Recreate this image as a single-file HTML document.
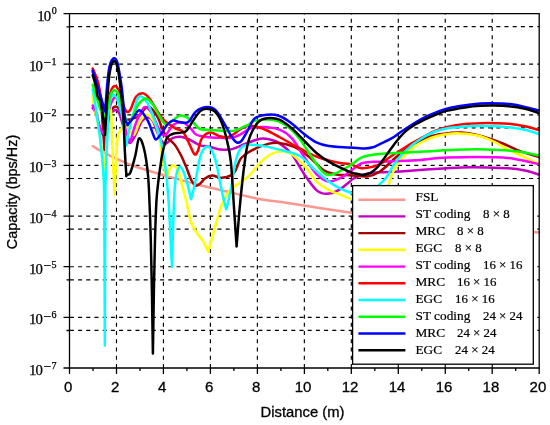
<!DOCTYPE html>
<html><head><meta charset="utf-8"><style>html,body{margin:0;padding:0;background:#fff;}svg{display:block;}</style></head><body>
<svg width="550" height="425" viewBox="0 0 550 425">
<defs><clipPath id="clp"><rect x="69.5" y="13.6" width="469.7" height="354.4"/></clipPath></defs><rect width="550" height="425" fill="#fff"/>
<path d="M116.47,367.96V13.55 M163.44,367.96V13.55 M210.41,367.96V13.55 M257.38,367.96V13.55 M304.35,367.96V13.55 M351.32,367.96V13.55 M398.29,367.96V13.55 M445.26,367.96V13.55 M492.23,367.96V13.55" stroke="#000" stroke-width="1.15" stroke-dasharray="4,4.22" fill="none"/>
<path d="M69.9,26.65H539.20 M69.9,64.18H539.20 M69.9,77.28H539.20 M69.9,114.81H539.20 M69.9,127.91H539.20 M69.9,165.44H539.20 M69.9,178.54H539.20 M69.9,216.07H539.20 M69.9,229.17H539.20 M69.9,266.70H539.20 M69.9,279.80H539.20 M69.9,317.33H539.20 M69.9,330.43H539.20" stroke="#000" stroke-width="1.15" stroke-dasharray="4,4.2" fill="none"/>
<g clip-path="url(#clp)"><path d="M92.7,146.0 C93.8,146.7 96.4,148.5 99.0,150.0 C101.6,151.5 105.0,153.2 108.5,154.9 C112.0,156.6 116.1,158.6 120.0,160.3 C123.9,162.0 128.1,163.8 132.1,165.3 C136.1,166.8 140.1,168.1 144.0,169.3 C147.9,170.6 151.8,171.7 155.6,172.8 C159.4,174.0 163.1,175.1 167.0,176.2 C170.9,177.3 173.6,178.1 179.1,179.6 C184.6,181.1 192.6,183.3 200.0,185.2 C207.4,187.0 214.2,188.5 223.6,190.7 C233.0,192.9 245.8,196.3 256.4,198.4 C267.0,200.5 277.3,201.5 287.3,203.0 C297.3,204.5 305.7,205.9 316.4,207.5 C327.1,209.1 337.4,210.8 351.3,212.8 C365.2,214.8 383.6,217.5 400.0,219.5 C416.4,221.5 433.3,223.4 450.0,225.0 C466.7,226.6 485.2,228.1 500.0,229.3 C514.8,230.6 532.5,232.0 539.0,232.5" stroke="#fa9890" stroke-width="2.5" fill="none" stroke-linejoin="round" stroke-linecap="round"/>
<path d="M92.7,108.0 C93.2,108.8 95.0,111.0 95.8,113.0 C96.6,115.0 97.0,117.7 97.6,120.0 C98.2,122.3 98.8,124.8 99.5,127.0 C100.2,129.2 101.2,131.3 102.0,133.0 C102.8,134.7 104.1,136.3 104.5,137.0 C105.0,134.5 106.5,125.8 107.5,122.0 C108.5,118.2 109.5,115.8 110.5,114.0 C111.5,112.2 112.5,111.7 113.5,111.0 C114.5,110.3 115.5,109.5 116.5,110.0 C117.5,110.5 118.6,112.0 119.5,114.0 C120.4,116.0 120.9,118.5 122.0,122.0 C123.1,125.5 124.7,131.5 126.0,135.0 C127.3,138.5 128.3,143.2 130.0,143.0 C131.7,142.8 134.0,137.7 136.0,134.0 C138.0,130.3 139.9,123.7 142.0,121.0 C144.1,118.3 146.9,117.6 148.7,117.6 C150.5,117.6 151.6,118.7 153.0,121.0 C154.4,123.3 155.6,128.0 156.9,131.2 C158.2,134.4 159.6,137.9 161.0,140.0 C162.4,142.1 163.5,144.2 165.4,143.9 C167.3,143.6 169.9,139.4 172.5,138.2 C175.1,137.0 178.1,136.6 180.9,136.8 C183.7,137.0 186.2,138.2 189.4,139.6 C192.6,141.0 196.8,144.2 200.0,145.3 C203.2,146.5 205.4,145.8 208.8,146.5 C212.2,147.2 216.4,149.0 220.3,149.4 C224.2,149.8 227.7,150.1 232.0,149.1 C236.3,148.1 241.4,145.2 246.1,143.5 C250.8,141.8 256.2,139.5 260.2,138.8 C264.2,138.1 266.8,138.8 270.0,139.5 C273.2,140.2 275.8,140.6 279.4,143.1 C283.0,145.6 287.6,149.2 291.7,154.3 C295.8,159.5 300.0,168.0 304.1,174.0 C308.2,180.0 312.7,186.8 316.4,190.1 C320.1,193.4 322.6,193.8 326.3,193.8 C330.0,193.8 334.7,192.2 338.6,190.1 C342.6,188.0 347.6,183.3 350.0,181.4 C352.4,179.5 350.4,180.0 352.9,178.8 C355.3,177.6 360.2,175.2 364.7,174.1 C369.2,173.0 374.0,172.8 380.0,172.3 C386.0,171.9 392.2,171.9 400.5,171.4 C408.8,170.9 419.8,170.0 430.0,169.3 C440.2,168.6 452.4,167.7 461.6,167.4 C470.8,167.1 477.1,167.2 485.0,167.4 C492.9,167.6 502.0,167.8 508.7,168.3 C515.4,168.8 520.0,169.6 525.0,170.6 C530.0,171.6 536.7,173.9 539.0,174.6" stroke="#c400c4" stroke-width="2.5" fill="none" stroke-linejoin="round" stroke-linecap="round"/>
<path d="M92.7,72.0 C93.3,73.2 95.4,76.2 96.5,79.5 C97.6,82.8 98.6,86.1 99.5,92.0 C100.4,97.9 101.2,105.3 102.0,115.0 C102.8,124.7 104.1,144.2 104.5,150.0 C105.0,145.8 106.5,131.3 107.5,125.0 C108.5,118.7 109.5,114.9 110.5,112.0 C111.5,109.1 112.5,108.4 113.5,107.5 C114.5,106.6 115.4,106.2 116.5,106.6 C117.6,107.0 118.9,108.4 120.0,110.0 C121.1,111.6 121.9,114.4 123.0,116.0 C124.1,117.6 125.1,119.3 126.8,119.7 C128.5,120.1 130.9,119.1 133.0,118.5 C135.1,117.9 137.1,117.8 139.1,116.1 C141.1,114.4 143.1,109.9 145.0,108.5 C146.9,107.1 148.6,106.6 150.4,107.6 C152.2,108.6 154.7,112.5 156.1,114.6 C157.5,116.7 158.0,117.8 159.0,120.0 C160.0,122.2 160.8,125.3 162.0,128.0 C163.2,130.7 164.5,133.8 166.0,136.0 C167.5,138.2 169.5,139.5 171.1,141.1 C172.7,142.7 173.7,143.2 175.4,145.6 C177.1,148.0 179.2,151.7 181.1,155.5 C183.0,159.3 185.0,164.2 186.7,168.2 C188.3,172.2 189.5,176.6 191.0,179.5 C192.5,182.4 194.0,184.8 195.5,185.5 C197.0,186.2 198.4,185.0 200.0,183.8 C201.6,182.6 203.0,179.9 205.0,178.5 C207.0,177.1 210.0,175.9 212.0,175.6 C214.0,175.3 215.3,176.4 217.0,176.8 C218.7,177.2 219.8,178.0 222.0,177.8 C224.2,177.6 228.2,176.8 230.4,175.6 C232.6,174.4 233.7,173.6 235.4,170.8 C237.1,168.0 238.2,162.1 240.5,159.0 C242.8,155.9 246.2,153.9 249.0,152.0 C251.8,150.1 254.3,149.0 257.4,147.7 C260.4,146.4 264.0,145.0 267.3,144.2 C270.6,143.4 272.5,142.4 277.0,142.8 C281.5,143.2 288.9,144.6 294.2,146.9 C299.5,149.2 304.1,152.8 309.0,156.7 C313.9,160.6 319.3,167.3 323.8,170.3 C328.3,173.3 331.8,173.7 336.2,174.5 C340.6,175.3 344.9,174.9 350.0,175.2 C355.1,175.5 362.1,177.1 367.1,176.5 C372.1,175.9 375.2,174.7 380.0,171.5 C384.8,168.3 391.6,161.1 395.8,157.5 C400.0,153.9 401.9,152.3 405.0,150.0 C408.1,147.7 411.1,145.4 414.6,143.4 C418.1,141.4 422.1,139.5 426.0,138.0 C429.9,136.5 434.1,135.3 438.1,134.5 C442.1,133.7 446.1,133.2 450.0,132.9 C453.9,132.6 457.4,132.3 461.6,132.6 C465.8,132.9 470.3,133.5 475.0,134.5 C479.7,135.5 485.0,137.1 489.8,138.7 C494.6,140.3 499.3,142.1 504.0,144.0 C508.7,145.9 512.3,148.2 518.1,150.4 C523.9,152.6 535.5,155.9 539.0,157.0" stroke="#a80000" stroke-width="2.5" fill="none" stroke-linejoin="round" stroke-linecap="round"/>
<path d="M92.7,90.0 C92.7,91.2 92.8,94.7 92.9,97.0 C93.1,99.3 93.2,101.5 93.6,104.0 C94.0,106.5 94.6,109.0 95.3,112.0 C96.0,115.0 96.7,118.0 97.5,122.0 C98.3,126.0 99.2,130.5 100.0,136.0 C100.8,141.5 101.8,149.4 102.5,155.0 C103.2,160.6 104.1,167.3 104.4,169.8 C104.7,166.5 105.7,157.5 106.2,150.0 C106.7,142.5 106.9,132.0 107.3,125.0 C107.7,118.0 108.2,111.2 108.7,108.0 C109.2,104.8 109.6,104.8 110.0,106.0 C110.4,107.2 110.9,107.7 111.3,115.0 C111.7,122.3 112.0,136.8 112.5,150.0 C113.0,163.2 114.2,187.1 114.6,194.5 C114.9,187.1 116.1,159.9 116.7,150.0 C117.3,140.1 117.3,138.2 118.0,135.0 C118.7,131.8 119.6,132.4 120.6,130.6 C121.6,128.8 122.8,124.6 124.0,124.0 C125.2,123.4 126.4,125.2 128.0,127.0 C129.6,128.8 132.0,135.7 133.8,135.0 C135.7,134.3 137.0,126.5 139.1,123.1 C141.2,119.7 143.8,115.1 146.2,114.6 C148.5,114.1 151.3,117.7 153.2,120.3 C155.1,122.9 156.3,126.1 157.5,130.2 C158.7,134.3 159.4,138.7 160.5,145.0 C161.6,151.3 163.0,162.9 164.1,168.2 C165.2,173.5 166.5,175.3 167.0,176.7 C167.6,175.2 169.3,169.4 170.5,167.5 C171.7,165.6 172.7,164.8 174.0,165.4 C175.3,166.0 176.8,167.5 178.2,171.0 C179.6,174.5 181.1,181.4 182.5,186.6 C183.9,191.8 185.1,196.1 186.5,202.0 C187.9,207.9 189.2,216.8 191.0,222.0 C192.8,227.2 195.0,229.8 197.0,233.0 C199.0,236.2 201.1,238.1 203.0,241.2 C204.9,244.3 207.4,250.0 208.3,251.8 C209.3,248.2 212.4,236.6 214.2,230.0 C216.0,223.4 217.6,217.2 219.1,212.4 C220.6,207.6 222.0,204.3 223.4,201.1 C224.8,197.9 226.0,195.6 227.6,193.3 C229.2,191.1 230.8,189.6 233.2,187.6 C235.5,185.6 239.1,183.2 241.7,181.3 C244.3,179.4 246.4,178.4 249.0,175.9 C251.6,173.4 254.6,169.2 257.4,166.1 C260.2,163.0 262.6,160.0 265.9,157.6 C269.2,155.2 273.1,152.7 277.0,151.9 C280.9,151.1 284.8,150.8 289.3,153.0 C293.8,155.2 299.6,160.7 304.1,165.4 C308.6,170.1 312.3,177.3 316.4,181.4 C320.5,185.5 324.9,187.9 328.8,190.1 C332.7,192.3 336.3,193.0 340.0,194.5 C343.7,196.0 347.0,197.2 351.2,199.0 C355.4,200.8 360.5,204.8 365.0,205.0 C369.5,205.2 374.4,202.5 378.0,200.0 C381.6,197.5 383.9,194.7 386.4,190.0 C388.9,185.3 390.6,177.0 393.0,172.0 C395.4,167.0 397.3,163.9 400.5,160.0 C403.7,156.1 408.1,151.7 412.0,148.5 C415.9,145.3 419.8,143.1 424.0,141.0 C428.2,138.9 432.3,137.3 437.0,136.0 C441.7,134.7 447.4,133.8 452.2,133.4 C457.0,133.0 461.3,133.3 466.0,133.8 C470.7,134.3 475.6,134.9 480.4,136.3 C485.2,137.7 490.3,139.9 495.0,142.2 C499.7,144.5 503.7,147.5 508.7,150.0 C513.7,152.5 520.0,155.0 525.0,157.3 C530.0,159.6 536.7,162.9 539.0,164.0" stroke="#ffff00" stroke-width="2.5" fill="none" stroke-linejoin="round" stroke-linecap="round"/>
<path d="M92.7,105.5 C93.2,106.3 94.8,108.5 95.6,110.5 C96.4,112.5 96.7,115.1 97.3,117.5 C97.9,119.9 98.5,122.8 99.2,125.0 C99.9,127.2 100.7,129.5 101.6,131.0 C102.5,132.5 103.9,133.5 104.4,134.0 C104.9,131.3 106.3,122.7 107.2,118.0 C108.1,113.3 109.0,109.1 110.0,106.0 C111.0,102.9 112.1,100.9 113.0,99.5 C113.9,98.1 114.6,96.8 115.6,97.4 C116.6,98.0 117.8,99.6 119.0,103.0 C120.2,106.4 121.7,112.7 123.0,118.0 C124.3,123.3 125.8,131.0 127.0,135.0 C128.2,139.0 129.9,140.8 130.5,141.9 C131.2,139.2 133.2,130.7 134.9,125.9 C136.6,121.1 138.8,116.4 140.5,113.2 C142.2,110.0 143.1,107.0 145.0,107.0 C146.9,107.0 149.5,109.6 151.8,113.2 C154.1,116.8 156.7,125.1 158.9,128.8 C161.1,132.5 162.4,136.2 164.8,135.5 C167.2,134.8 170.5,127.0 173.5,124.8 C176.5,122.6 180.1,121.8 183.0,122.5 C185.9,123.2 189.0,127.0 191.2,129.0 C193.4,131.0 193.5,133.2 196.0,134.5 C198.5,135.8 202.1,136.4 206.2,137.0 C210.2,137.6 216.1,137.7 220.3,137.8 C224.5,137.9 228.3,138.3 231.6,137.8 C234.9,137.3 237.2,136.1 240.0,134.6 C242.8,133.1 246.8,130.0 248.5,129.0 C250.2,128.0 247.7,128.8 250.0,128.5 C252.3,128.2 257.2,126.9 262.1,127.1 C267.0,127.3 274.5,127.8 279.4,129.6 C284.3,131.4 287.6,133.7 291.7,138.2 C295.8,142.7 300.0,150.7 304.1,156.7 C308.2,162.7 312.3,169.9 316.4,174.0 C320.5,178.1 324.7,180.8 328.8,181.4 C332.9,182.0 337.6,179.3 341.1,177.7 C344.6,176.0 346.6,173.9 350.0,171.5 C353.4,169.1 357.4,165.1 361.2,163.5 C365.0,161.9 368.7,162.1 372.9,161.8 C377.1,161.5 379.2,161.8 386.4,161.5 C393.6,161.2 405.8,160.8 416.0,160.2 C426.2,159.5 434.4,158.1 447.5,157.6 C460.6,157.1 483.2,157.0 494.5,157.2 C505.8,157.4 507.6,157.8 515.0,159.0 C522.4,160.2 535.0,163.3 539.0,164.2" stroke="#ff00ff" stroke-width="2.5" fill="none" stroke-linejoin="round" stroke-linecap="round"/>
<path d="M92.7,68.5 C93.2,69.6 94.5,72.5 95.5,75.0 C96.5,77.5 97.6,80.2 98.4,83.5 C99.2,86.8 99.8,90.2 100.5,95.0 C101.2,99.8 101.9,106.3 102.6,112.0 C103.3,117.7 104.2,126.2 104.5,129.0 C104.8,126.2 105.6,117.0 106.3,112.0 C107.0,107.0 107.9,102.8 108.8,99.1 C109.7,95.3 110.5,91.7 111.5,89.5 C112.5,87.3 113.8,85.9 115.0,85.9 C116.2,85.9 117.3,87.3 118.5,89.5 C119.7,91.7 121.0,96.1 122.0,99.1 C123.0,102.1 123.3,105.3 124.2,107.5 C125.1,109.7 126.5,111.7 127.5,112.0 C128.6,112.3 129.5,111.2 130.5,109.5 C131.5,107.8 132.5,104.2 133.5,102.0 C134.5,99.8 134.8,97.8 136.3,96.3 C137.8,94.8 140.5,93.0 142.6,93.2 C144.7,93.4 146.8,95.1 149.0,97.7 C151.2,100.3 154.0,105.7 156.1,109.0 C158.2,112.3 159.8,115.2 161.7,117.5 C163.6,119.8 165.1,121.3 167.4,123.1 C169.7,124.9 172.8,127.1 175.3,128.4 C177.8,129.8 180.3,129.1 182.4,131.2 C184.5,133.3 186.0,137.3 188.0,141.1 C190.0,144.9 192.7,152.4 194.3,154.0 C196.0,155.6 196.6,153.6 197.9,150.9 C199.2,148.2 199.9,141.2 202.0,138.1 C204.1,135.0 207.6,132.8 210.4,132.5 C213.2,132.2 216.3,135.2 218.9,136.0 C221.5,136.8 223.6,137.6 225.9,137.4 C228.2,137.2 230.7,135.9 233.0,134.6 C235.3,133.3 237.4,131.0 240.0,129.5 C242.6,128.0 246.1,126.0 248.5,125.5 C250.9,125.0 251.8,125.7 254.7,126.4 C257.6,127.2 261.9,128.2 266.0,130.0 C270.1,131.8 275.1,134.7 279.4,137.0 C283.7,139.3 287.6,141.7 291.7,144.0 C295.8,146.3 300.0,148.5 304.1,150.6 C308.2,152.7 312.3,154.9 316.4,156.5 C320.5,158.1 324.9,159.3 328.8,160.4 C332.7,161.5 336.5,162.4 340.0,163.0 C343.5,163.6 346.5,163.2 350.0,164.1 C353.5,165.0 357.4,167.8 361.2,168.2 C365.0,168.6 369.8,167.5 372.9,166.8 C376.0,166.1 377.1,165.8 380.0,164.2 C382.9,162.6 386.6,159.3 390.0,157.0 C393.4,154.7 396.8,152.7 400.5,150.4 C404.2,148.1 408.1,145.3 412.0,143.0 C415.9,140.7 420.2,138.5 424.0,136.5 C427.8,134.5 431.1,132.6 435.0,131.0 C438.9,129.4 442.5,128.1 447.5,126.9 C452.5,125.7 459.5,124.6 465.0,124.0 C470.5,123.4 475.4,123.3 480.4,123.2 C485.4,123.1 490.3,123.1 495.0,123.2 C499.7,123.3 503.7,123.3 508.7,123.8 C513.7,124.3 520.0,125.3 525.0,126.3 C530.0,127.3 536.7,129.4 539.0,130.0" stroke="#ff0000" stroke-width="2.5" fill="none" stroke-linejoin="round" stroke-linecap="round"/>
<path d="M92.7,89.4 C92.9,90.6 93.6,94.1 94.0,96.5 C94.4,98.9 94.7,100.9 95.2,104.0 C95.7,107.1 96.3,111.5 96.8,115.0 C97.3,118.5 97.7,121.1 98.3,125.3 C98.9,129.5 99.8,135.6 100.3,140.0 C100.8,144.4 101.0,146.7 101.5,152.0 C102.0,157.3 102.8,164.0 103.2,172.0 C103.7,180.0 103.9,171.1 104.2,200.0 C104.5,228.9 104.7,321.2 104.8,345.4 C104.9,321.2 105.1,227.9 105.3,200.0 C105.5,172.1 105.5,185.5 105.7,178.0 C105.9,170.5 106.2,162.2 106.5,155.0 C106.8,147.8 107.1,142.5 107.5,135.0 C107.9,127.5 108.3,116.0 108.8,110.0 C109.3,104.0 109.8,101.5 110.5,99.0 C111.2,96.5 112.2,95.0 113.2,94.7 C114.2,94.5 115.5,95.6 116.5,97.5 C117.5,99.4 118.5,102.6 119.5,106.0 C120.5,109.4 121.7,113.7 122.5,118.0 C123.3,122.3 123.9,127.4 124.5,132.0 C125.1,136.6 126.0,143.2 126.3,145.4 C126.7,143.5 127.6,137.9 128.4,134.0 C129.2,130.1 130.1,125.7 131.0,122.0 C131.9,118.3 132.8,115.7 133.8,112.0 C134.8,108.3 135.9,102.6 137.0,100.0 C138.1,97.4 138.7,95.7 140.5,96.3 C142.3,96.9 145.2,99.4 147.6,103.4 C149.9,107.4 152.8,115.4 154.6,120.3 C156.4,125.2 157.4,129.2 158.5,133.0 C159.6,136.8 160.1,137.1 161.3,143.0 C162.5,148.9 164.3,158.7 165.5,168.2 C166.7,177.7 167.4,183.6 168.5,200.0 C169.6,216.4 171.4,255.5 172.0,266.6 C172.2,258.0 173.0,228.6 173.5,215.0 C174.0,201.4 174.4,192.2 175.0,185.0 C175.6,177.8 176.1,175.0 177.0,172.0 C177.9,169.0 179.2,166.6 180.4,166.8 C181.6,167.0 182.7,169.7 184.0,173.0 C185.3,176.3 186.9,182.2 188.1,186.6 C189.3,191.0 190.5,197.2 191.0,199.3 C191.7,196.5 193.8,189.0 195.2,182.4 C196.6,175.8 198.1,165.4 199.4,160.0 C200.7,154.6 201.6,152.2 203.0,150.0 C204.4,147.8 206.5,146.3 208.0,146.5 C209.5,146.7 210.8,148.8 212.0,151.0 C213.2,153.2 214.4,156.4 215.4,160.0 C216.4,163.6 217.1,167.1 218.2,172.4 C219.3,177.7 220.7,185.8 222.0,192.0 C223.3,198.2 225.5,206.4 226.2,209.3 C226.7,207.5 228.1,202.4 229.0,198.2 C229.9,194.0 231.0,188.8 231.8,184.1 C232.6,179.4 233.2,174.3 234.0,170.0 C234.8,165.7 235.4,161.6 236.5,158.0 C237.6,154.4 238.9,150.7 240.5,148.5 C242.1,146.3 242.8,145.5 246.1,145.0 C249.4,144.5 255.0,144.9 260.2,145.6 C265.3,146.3 270.5,147.4 277.0,149.1 C283.5,150.8 292.9,152.2 299.1,155.5 C305.3,158.8 309.1,164.8 314.0,169.1 C318.9,173.4 324.5,178.2 328.8,181.4 C333.1,184.6 336.5,186.7 340.0,188.5 C343.5,190.3 348.1,191.8 350.0,192.5 C351.9,193.2 349.2,192.2 351.2,193.0 C353.2,193.8 358.5,197.2 362.0,197.0 C365.5,196.8 369.0,194.2 372.0,192.0 C375.0,189.8 377.6,186.4 380.0,184.0 C382.4,181.6 384.2,180.5 386.4,177.5 C388.6,174.5 390.6,169.6 393.0,166.0 C395.4,162.4 397.3,159.5 400.5,156.0 C403.7,152.5 408.1,148.4 412.0,145.2 C415.9,142.0 420.2,139.3 424.0,137.0 C427.8,134.7 431.1,133.0 435.0,131.5 C438.9,130.0 442.5,129.0 447.5,128.2 C452.5,127.3 459.5,126.8 465.0,126.4 C470.5,126.0 475.4,126.0 480.4,126.0 C485.4,126.0 490.3,126.0 495.0,126.2 C499.7,126.4 503.7,126.6 508.7,127.2 C513.7,127.8 520.0,128.7 525.0,129.8 C530.0,130.9 536.7,133.3 539.0,134.0" stroke="#00ffff" stroke-width="2.5" fill="none" stroke-linejoin="round" stroke-linecap="round"/>
<path d="M92.7,84.7 C93.1,85.9 94.1,89.1 95.0,92.0 C95.9,94.9 97.0,98.8 98.0,102.0 C99.0,105.2 99.9,108.4 101.0,111.0 C102.1,113.6 104.2,116.4 104.8,117.5 C105.0,116.6 105.7,113.6 106.2,112.0 C106.7,110.4 107.2,110.7 107.9,107.9 C108.6,105.2 109.5,98.4 110.5,95.5 C111.5,92.6 112.8,90.5 114.1,90.3 C115.3,90.0 116.5,91.0 118.0,94.0 C119.5,97.0 121.7,104.4 122.9,108.5 C124.2,112.6 124.6,116.0 125.5,118.5 C126.4,121.0 127.4,122.9 128.3,123.3 C129.2,123.7 130.0,122.8 131.0,121.0 C132.0,119.2 133.2,115.4 134.5,112.5 C135.8,109.6 137.2,105.8 139.1,103.4 C141.0,101.1 143.8,98.2 146.2,98.4 C148.5,98.6 150.8,101.6 153.2,104.8 C155.5,108.0 158.2,114.2 160.3,117.5 C162.4,120.8 163.8,124.0 165.9,124.5 C168.0,125.0 170.7,121.8 173.0,120.3 C175.3,118.8 177.2,116.1 179.5,115.6 C181.8,115.1 184.2,115.9 186.6,117.1 C188.9,118.3 191.5,120.8 193.6,122.7 C195.7,124.6 196.6,127.3 199.1,128.5 C201.6,129.7 205.7,129.7 208.8,130.0 C212.0,130.3 214.9,130.2 218.0,130.4 C221.1,130.6 224.4,131.1 227.4,131.1 C230.4,131.1 232.9,131.2 235.8,130.4 C238.7,129.6 242.9,127.0 245.0,126.1 C247.1,125.2 246.9,125.7 248.5,124.8 C250.1,123.9 250.8,121.8 254.7,120.9 C258.6,120.1 266.6,118.9 272.0,119.7 C277.4,120.5 282.3,122.8 286.8,125.9 C291.3,129.0 295.0,133.1 299.1,138.2 C303.2,143.3 307.4,150.9 311.5,156.7 C315.6,162.5 320.1,169.9 323.8,172.8 C327.5,175.7 329.3,175.2 333.7,174.0 C338.1,172.8 345.4,168.1 350.0,165.4 C354.6,162.7 357.4,159.4 361.2,157.6 C365.0,155.8 368.9,155.4 372.9,154.7 C376.9,154.0 376.5,154.1 385.0,153.6 C393.5,153.1 412.3,152.2 424.0,151.6 C435.7,151.0 444.8,150.2 455.0,149.8 C465.2,149.4 474.6,149.1 485.1,149.4 C495.6,149.7 509.1,150.4 518.1,151.4 C527.1,152.4 535.5,154.9 539.0,155.6" stroke="#00ff00" stroke-width="2.5" fill="none" stroke-linejoin="round" stroke-linecap="round"/>
<path d="M92.7,70.5 C93.1,71.8 94.2,75.4 95.0,78.0 C95.8,80.6 96.7,83.5 97.4,86.0 C98.2,88.5 98.7,90.4 99.5,93.0 C100.3,95.6 101.3,98.4 102.2,101.5 C103.1,104.6 104.5,109.8 104.9,111.5 C105.0,110.9 105.1,111.5 105.4,108.0 C105.7,104.5 106.2,96.2 106.7,90.3 C107.2,84.4 107.9,77.1 108.5,72.6 C109.1,68.0 109.6,65.4 110.5,63.0 C111.4,60.6 113.0,58.5 114.1,58.2 C115.2,58.0 116.1,59.1 117.0,61.5 C117.9,63.9 118.6,67.8 119.4,72.6 C120.2,77.4 121.4,84.4 122.1,90.3 C122.8,96.2 123.2,102.8 123.8,107.9 C124.4,113.0 124.9,118.2 125.6,121.0 C126.3,123.8 127.4,123.9 127.8,124.5 C128.2,125.1 126.8,125.7 127.8,124.5 C128.8,123.3 131.6,119.9 133.5,117.5 C135.4,115.1 137.2,109.8 139.5,110.3 C141.8,110.8 145.3,116.3 147.6,120.3 C149.9,124.3 151.8,131.2 153.2,134.4 C154.6,137.6 154.6,139.7 156.0,139.5 C157.4,139.3 159.8,135.5 161.7,133.0 C163.6,130.5 165.5,126.6 167.4,124.5 C169.3,122.4 171.0,120.9 173.0,120.5 C175.0,120.1 177.5,121.6 179.5,122.0 C181.5,122.4 183.4,122.9 185.0,122.8 C186.6,122.7 187.3,123.1 189.2,121.2 C191.1,119.3 193.2,113.7 196.3,111.3 C199.4,108.9 204.3,107.2 207.6,107.1 C210.9,107.0 213.3,107.8 216.1,110.6 C218.9,113.4 221.9,119.7 224.5,124.0 C227.1,128.3 229.5,133.6 231.6,136.7 C233.7,139.8 235.3,141.8 237.0,142.5 C238.7,143.2 239.8,142.7 241.5,140.9 C243.2,139.1 244.8,135.5 247.0,131.8 C249.2,128.1 251.4,121.3 254.7,118.5 C258.0,115.7 262.9,115.2 267.0,114.8 C271.1,114.4 275.3,114.6 279.4,116.0 C283.5,117.4 287.6,120.4 291.7,123.4 C295.8,126.4 300.0,130.8 304.1,134.0 C308.2,137.2 312.3,140.4 316.4,142.4 C320.5,144.4 323.4,145.2 328.8,146.1 C334.2,147.0 344.9,147.3 348.5,147.6 C352.1,147.8 347.9,147.4 350.6,147.6 C353.3,147.8 361.0,148.6 364.7,148.5 C368.4,148.4 370.3,148.0 372.9,147.3 C375.4,146.6 377.0,145.5 380.0,144.1 C383.0,142.7 387.8,140.6 391.1,138.7 C394.4,136.8 396.9,134.6 400.0,132.5 C403.1,130.4 406.6,128.1 409.9,126.0 C413.2,123.9 416.6,121.7 420.0,119.8 C423.4,117.9 425.8,116.5 430.0,114.8 C434.2,113.0 440.0,110.8 445.0,109.3 C450.0,107.8 454.1,107.0 460.0,106.0 C465.9,105.0 473.7,103.9 480.4,103.5 C487.1,103.1 494.2,103.2 500.0,103.4 C505.8,103.6 508.5,103.6 515.0,104.8 C521.5,106.0 535.0,109.5 539.0,110.4" stroke="#0000ff" stroke-width="2.5" fill="none" stroke-linejoin="round" stroke-linecap="round"/>
<path d="M92.7,75.3 C93.2,76.9 94.7,81.4 95.5,85.0 C96.3,88.6 97.0,94.4 97.8,97.0 C98.6,99.6 99.3,97.8 100.1,100.6 C100.9,103.4 101.8,108.3 102.6,114.0 C103.4,119.7 104.7,131.5 105.1,135.0 C105.2,132.5 105.6,124.5 105.9,120.0 C106.2,115.5 106.4,112.9 106.7,107.9 C107.0,103.0 107.4,96.2 107.9,90.3 C108.4,84.4 109.1,76.9 109.7,72.6 C110.3,68.3 110.8,66.4 111.5,64.5 C112.2,62.6 113.3,61.3 114.1,61.2 C114.9,61.1 115.8,62.1 116.5,64.0 C117.2,65.9 117.8,68.2 118.5,72.6 C119.2,77.0 120.1,84.4 120.8,90.3 C121.5,96.2 122.1,102.0 122.6,107.9 C123.1,113.8 123.4,118.6 123.8,125.6 C124.2,132.6 124.4,141.9 124.8,150.0 C125.2,158.1 126.0,170.3 126.3,174.4 C126.5,178.5 126.0,174.4 126.3,174.4 C126.6,174.4 127.3,174.8 128.0,174.5 C128.7,174.2 129.3,175.5 130.5,172.3 C131.7,169.1 134.0,161.0 135.4,155.3 C136.8,149.7 137.6,139.6 139.0,138.4 C140.4,137.2 142.4,142.2 143.9,148.3 C145.4,154.4 147.1,165.6 148.0,175.0 C148.9,184.4 149.1,194.2 149.6,205.0 C150.1,215.8 150.4,225.8 150.8,240.0 C151.2,254.2 151.6,271.1 151.9,290.0 C152.2,308.9 152.7,342.9 152.9,353.5 C153.1,342.9 153.6,308.9 153.9,290.0 C154.2,271.1 154.6,255.0 155.0,240.0 C155.4,225.0 155.9,210.0 156.5,200.0 C157.1,190.0 157.9,185.5 158.5,180.0 C159.1,174.5 159.6,171.6 160.3,167.0 C161.0,162.4 161.5,157.2 162.6,152.4 C163.7,147.6 165.2,141.3 166.8,138.2 C168.5,135.1 170.2,134.9 172.5,134.0 C174.8,133.1 178.6,133.2 180.9,132.6 C183.2,132.0 184.5,132.7 186.6,130.6 C188.7,128.5 191.4,123.1 193.6,119.9 C195.8,116.7 197.9,113.2 200.0,111.4 C202.1,109.6 203.8,108.8 206.2,108.8 C208.6,108.8 212.0,109.0 214.6,111.3 C217.2,113.6 219.6,117.4 221.7,122.6 C223.8,127.8 225.9,135.8 227.4,142.4 C228.9,149.0 229.9,152.4 230.9,162.0 C231.9,171.6 232.6,185.9 233.5,200.0 C234.4,214.1 236.1,238.8 236.6,246.5 C237.1,240.4 238.5,221.1 239.5,210.0 C240.5,198.9 241.6,188.3 242.5,180.0 C243.4,171.7 244.2,165.8 245.0,160.0 C245.8,154.2 246.4,149.5 247.5,145.0 C248.6,140.5 249.5,137.0 251.3,133.2 C253.1,129.3 255.8,124.4 258.4,121.9 C261.0,119.4 263.5,118.7 267.0,118.3 C270.5,117.9 275.3,118.0 279.4,119.7 C283.5,121.4 287.6,124.8 291.7,128.3 C295.8,131.8 300.0,136.6 304.1,140.7 C308.2,144.8 312.3,149.5 316.4,153.0 C320.5,156.5 323.4,158.6 328.8,161.7 C334.2,164.8 344.1,169.5 348.5,171.5 C352.9,173.5 352.8,172.9 355.3,173.5 C357.8,174.1 360.9,175.0 363.5,174.9 C366.1,174.8 368.4,174.0 370.6,172.9 C372.8,171.8 374.4,170.3 376.5,168.2 C378.6,166.0 380.6,163.3 383.0,160.0 C385.4,156.7 388.6,151.9 391.1,148.5 C393.6,145.1 395.6,142.3 398.0,139.5 C400.4,136.7 402.5,134.0 405.2,131.6 C407.9,129.2 410.9,127.2 414.0,125.2 C417.1,123.2 420.5,121.6 424.0,119.9 C427.5,118.2 431.1,116.5 435.0,115.0 C438.9,113.5 442.5,111.9 447.5,110.6 C452.5,109.3 459.5,108.2 465.0,107.4 C470.5,106.6 475.4,106.1 480.4,105.8 C485.4,105.5 490.3,105.5 495.0,105.6 C499.7,105.7 503.7,105.8 508.7,106.3 C513.7,106.8 520.0,107.7 525.0,108.8 C530.0,109.9 536.7,112.3 539.0,113.0" stroke="#000000" stroke-width="2.5" fill="none" stroke-linejoin="round" stroke-linecap="round"/></g>
<path d="M69.5,13.6H539.2V368.0H69.5Z" stroke="#000" stroke-width="1.3" fill="none"/>
<path d="M69.5,368.0v6 M93.0,368.0v3 M116.5,368.0v6 M140.0,368.0v3 M163.4,368.0v6 M186.9,368.0v3 M210.4,368.0v6 M233.9,368.0v3 M257.4,368.0v6 M280.9,368.0v3 M304.4,368.0v6 M327.8,368.0v3 M351.3,368.0v6 M374.8,368.0v3 M398.3,368.0v6 M421.8,368.0v3 M445.3,368.0v6 M468.7,368.0v3 M492.2,368.0v6 M515.7,368.0v3 M539.2,368.0v6 M69.5,13.6h-6 M69.5,26.8h-3 M69.5,64.2h-6 M69.5,77.4h-3 M69.5,114.8h-6 M69.5,128.0h-3 M69.5,165.4h-6 M69.5,178.6h-3 M69.5,216.1h-6 M69.5,229.3h-3 M69.5,266.7h-6 M69.5,279.9h-3 M69.5,317.3h-6 M69.5,330.5h-3 M69.5,368.0h-6" stroke="#000" stroke-width="1.3" fill="none"/>
<g font-family="Liberation Sans, Arial, sans-serif" font-size="15" fill="#000" stroke="#000" stroke-width="0.3"><text x="68.2" y="391.8" text-anchor="middle">0</text><text x="115.2" y="391.8" text-anchor="middle">2</text><text x="162.1" y="391.8" text-anchor="middle">4</text><text x="209.1" y="391.8" text-anchor="middle">6</text><text x="256.1" y="391.8" text-anchor="middle">8</text><text x="303.1" y="391.8" text-anchor="middle">10</text><text x="350.0" y="391.8" text-anchor="middle">12</text><text x="397.0" y="391.8" text-anchor="middle">14</text><text x="444.0" y="391.8" text-anchor="middle">16</text><text x="490.9" y="391.8" text-anchor="middle">18</text><text x="537.9" y="391.8" text-anchor="middle">20</text></g>
<g font-family="Liberation Serif, Times New Roman, serif" fill="#000" stroke="#000" stroke-width="0.25"><text x="37.20" y="20.55" font-size="14.8" letter-spacing="-0.9">10</text><text x="51.80" y="14.45" font-size="10">0</text><text x="28.90" y="71.18" font-size="14.8" letter-spacing="-0.9">10</text><text x="43.60" y="67.38" font-size="14.0">−</text><text x="51.40" y="65.28" font-size="10">1</text><text x="28.90" y="121.81" font-size="14.8" letter-spacing="-0.9">10</text><text x="43.60" y="118.01" font-size="14.0">−</text><text x="51.40" y="115.91" font-size="10">2</text><text x="28.90" y="172.44" font-size="14.8" letter-spacing="-0.9">10</text><text x="43.60" y="168.64" font-size="14.0">−</text><text x="51.40" y="166.54" font-size="10">3</text><text x="28.90" y="223.07" font-size="14.8" letter-spacing="-0.9">10</text><text x="43.60" y="219.27" font-size="14.0">−</text><text x="51.40" y="217.17" font-size="10">4</text><text x="28.90" y="273.70" font-size="14.8" letter-spacing="-0.9">10</text><text x="43.60" y="269.90" font-size="14.0">−</text><text x="51.40" y="267.80" font-size="10">5</text><text x="28.90" y="324.33" font-size="14.8" letter-spacing="-0.9">10</text><text x="43.60" y="320.53" font-size="14.0">−</text><text x="51.40" y="318.43" font-size="10">6</text><text x="28.90" y="374.96" font-size="14.8" letter-spacing="-0.9">10</text><text x="43.60" y="371.16" font-size="14.0">−</text><text x="51.40" y="369.06" font-size="10">7</text></g>
<text x="302.5" y="416.6" text-anchor="middle" font-family="Liberation Sans, Arial, sans-serif" font-size="14.8" fill="#000" stroke="#000" stroke-width="0.3">Distance (m)</text>
<text transform="translate(17.2,192) rotate(-90)" text-anchor="middle" font-family="Liberation Sans, Arial, sans-serif" font-size="14.4" fill="#000" stroke="#000" stroke-width="0.3">Capacity (bps/Hz)</text>
<rect x="352.6" y="185.6" width="180.7" height="178.6" fill="#fff" stroke="#000" stroke-width="1.3"/>
<path d="M358.4,199.7H405.4" stroke="#fa9890" stroke-width="2.4"/>
<path d="M358.4,216.4H405.4" stroke="#c400c4" stroke-width="2.4"/>
<path d="M358.4,233.1H405.4" stroke="#a00000" stroke-width="2.4"/>
<path d="M358.4,249.8H405.4" stroke="#ffff00" stroke-width="2.4"/>
<path d="M358.4,266.6H405.4" stroke="#ff00ff" stroke-width="2.4"/>
<path d="M358.4,283.3H405.4" stroke="#ff0000" stroke-width="2.4"/>
<path d="M358.4,300.0H405.4" stroke="#00ffff" stroke-width="2.4"/>
<path d="M358.4,316.8H405.4" stroke="#00ff00" stroke-width="2.4"/>
<path d="M358.4,333.5H405.4" stroke="#0000ff" stroke-width="2.4"/>
<path d="M358.4,350.2H405.4" stroke="#000000" stroke-width="2.4"/>
<g font-family="Liberation Serif, Times New Roman, serif" font-size="13.3" fill="#000" stroke="#000" stroke-width="0.2"><text x="415.5" y="201.4">FSL</text><text x="415.5" y="218.4">ST coding</text><text x="483.0" y="218.4" font-size="12.9">8 × 8</text><text x="415.5" y="235.4">MRC</text><text x="457.0" y="235.4" font-size="12.9">8 × 8</text><text x="415.5" y="252.4">EGC</text><text x="455.1" y="252.4" font-size="12.9">8 × 8</text><text x="415.5" y="269.4">ST coding</text><text x="483.0" y="269.4" font-size="12.9">16 × 16</text><text x="415.5" y="286.4">MRC</text><text x="457.0" y="286.4" font-size="12.9">16 × 16</text><text x="415.5" y="303.4">EGC</text><text x="455.1" y="303.4" font-size="12.9">16 × 16</text><text x="415.5" y="320.4">ST coding</text><text x="483.0" y="320.4" font-size="12.9">24 × 24</text><text x="415.5" y="337.4">MRC</text><text x="457.0" y="337.4" font-size="12.9">24 × 24</text><text x="415.5" y="354.4">EGC</text><text x="455.1" y="354.4" font-size="12.9">24 × 24</text></g>
</svg>
</body></html>
